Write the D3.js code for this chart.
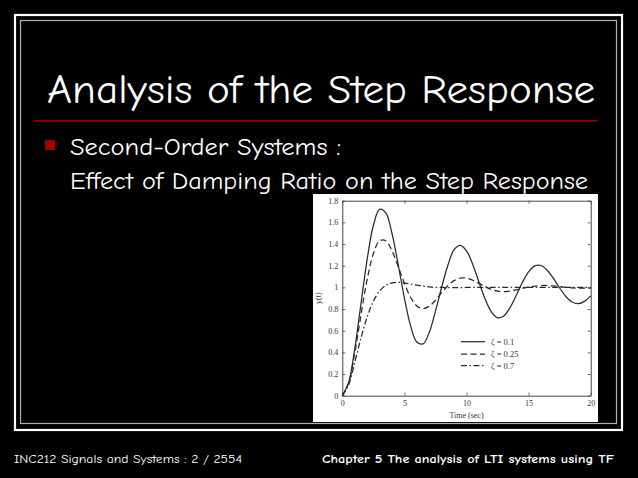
<!DOCTYPE html>
<html>
<head>
<meta charset="utf-8">
<script src="https://cdn.jsdelivr.net/npm/d3@7"></script>
<style>
  html, body { margin: 0; padding: 0; background: #000; }
  svg { display: block; }
</style>
</head>
<body>
<svg id="slide" width="638" height="478"></svg>
<script>
// ---------- data ----------
const time = [0,0.5,1,1.5,2,2.5,3,3.5,4,4.5,5,5.5,6,6.5,7,7.5,8,8.5,9,9.5,10,
              10.5,11,11.5,12,12.5,13,13.5,14,14.5,15,15.5,16,16.5,17,17.5,18,18.5,19,19.5,20];
const zeta01  = [0,0.118,0.431,0.846,1.258,1.571,1.720,1.688,1.499,1.210,0.901,0.644,0.496,0.478,0.584,0.780,1.001,1.204,1.348,1.388,1.337,
                 1.212,1.050,0.892,0.774,0.719,0.736,0.812,0.925,1.045,1.142,1.198,1.202,1.158,1.082,0.994,0.916,0.865,0.850,0.871,0.921];
const zeta025 = [0,0.113,0.392,0.743,1.071,1.310,1.430,1.431,1.337,1.192,1.037,0.908,0.828,0.803,0.826,0.881,0.951,1.015,1.062,1.085,1.085,
                 1.066,1.037,1.007,0.981,0.966,0.961,0.966,0.977,0.991,1.003,1.012,1.017,1.017,1.013,1.007,1.001,0.996,0.993,0.992,0.993];
const zeta07  = [0,0.098,0.306,0.531,0.726,0.871,0.965,1.018,1.042,1.046,1.040,1.030,1.020,1.011,1.005,1.001,0.999,0.998,0.998,0.998,0.999,
                 0.999,0.999,1.000,1.000,1.000,1.000,1.000,1.000,1.000,1.000,1.000,1.000,1.000,1.000,1.000,1.000,1.000,1.000,1.000,1.000];
const xTicks = [0,5,10,15,20];
const yTicks = [0,0.2,0.4,0.6,0.8,1,1.2,1.4,1.6,1.8];
const legendLabels = ["\u03B6 = 0.1", "\u03B6 = 0.25", "\u03B6 = 0.7"];
const titleText = "Analysis of the Step Response";
const bulletLines = ["Second-Order Systems :", "Effect of Damping Ratio on the Step Response"];
const footerLeft = "INC212 Signals and Systems : 2 / 2554";
const footerRight = "Chapter 5 The analysis of LTI systems using TF";

// ---------- drawing ----------
const svg = d3.select("#slide");
const comic = "'Comic Sans MS','Comic Neue','Open Sans','DejaVu Sans',sans-serif";
const serif = "'Liberation Serif','Times New Roman','DejaVu Serif',serif";

svg.append("rect").attr("width", 638).attr("height", 478).attr("fill", "#000");

// slide borders
svg.append("rect").attr("x", 15).attr("y", 15).attr("width", 607).attr("height", 415)
  .attr("fill", "none").attr("stroke", "#fff").attr("stroke-width", 2.2);
svg.append("rect").attr("x", 20.5).attr("y", 20.5).attr("width", 596).attr("height", 403)
  .attr("fill", "none").attr("stroke", "#b0b0b0").attr("stroke-width", 1.2);

// chart image background
svg.append("rect").attr("x", 313).attr("y", 194).attr("width", 285).attr("height", 228).attr("fill", "#fff");

// title
svg.append("text").attr("x", 47).attr("y", 103)
  .attr("font-family", comic).attr("font-size", 40).attr("fill", "#fff")
  .attr("textLength", 548).attr("lengthAdjust", "spacingAndGlyphs")
  .text(titleText);
svg.append("line").attr("x1", 34).attr("x2", 598).attr("y1", 120.7).attr("y2", 120.7)
  .attr("stroke", "#8e0000").attr("stroke-width", 1.5);

// bullet
svg.append("rect").attr("x", 45).attr("y", 140).attr("width", 10).attr("height", 10).attr("fill", "#a00000");
svg.append("text").attr("x", 70).attr("y", 154.5)
  .attr("font-family", comic).attr("font-size", 23.5).attr("fill", "#fff")
  .attr("textLength", 271).attr("lengthAdjust", "spacingAndGlyphs")
  .text(bulletLines[0]);
svg.append("text").attr("x", 70).attr("y", 188.5)
  .attr("font-family", comic).attr("font-size", 23.5).attr("fill", "#fff")
  .attr("textLength", 518).attr("lengthAdjust", "spacingAndGlyphs")
  .text(bulletLines[1]);

// footer
svg.append("text").attr("x", 14).attr("y", 463)
  .attr("font-family", comic).attr("font-size", 12.5).attr("fill", "#fff")
  .attr("textLength", 228).attr("lengthAdjust", "spacingAndGlyphs")
  .text(footerLeft);
svg.append("text").attr("x", 322).attr("y", 463)
  .attr("font-family", comic).attr("font-size", 12.5).attr("font-weight", "bold").attr("fill", "#fff")
  .attr("textLength", 292).attr("lengthAdjust", "spacingAndGlyphs")
  .text(footerRight);

// ---------- plot ----------
const x = d3.scaleLinear().domain([0, 20]).range([342.3, 590.7]);
const y = d3.scaleLinear().domain([0, 1.8]).range([395.7, 200.7]);
const fmt = d => String(+d.toFixed(1));
const axisColor = "#444";

function styleAxis(g) {
  g.select(".domain").attr("stroke", axisColor).attr("stroke-width", 1);
  g.selectAll(".tick line").attr("stroke", axisColor).attr("stroke-width", 0.8);
  g.selectAll(".tick text").attr("fill", "#333").attr("font-family", serif).attr("font-size", 8);
}

svg.append("g").attr("transform", `translate(0,${y(0)})`)
  .call(d3.axisBottom(x).tickValues(xTicks).tickSizeInner(-3).tickSizeOuter(0).tickPadding(4.5).tickFormat(fmt))
  .call(styleAxis);
svg.append("g").attr("transform", `translate(0,${y(1.8)})`)
  .call(d3.axisTop(x).tickValues(xTicks).tickSizeInner(-3).tickSizeOuter(0).tickFormat(""))
  .call(styleAxis);
svg.append("g").attr("transform", `translate(${x(0)},0)`)
  .call(d3.axisLeft(y).tickValues(yTicks).tickSizeInner(-3).tickSizeOuter(0).tickPadding(4).tickFormat(fmt))
  .call(styleAxis);
svg.append("g").attr("transform", `translate(${x(20)},0)`)
  .call(d3.axisRight(y).tickValues(yTicks).tickSizeInner(-3).tickSizeOuter(0).tickFormat(""))
  .call(styleAxis);

svg.append("text").attr("x", (x(0) + x(20)) / 2).attr("y", 417.5).attr("text-anchor", "middle")
  .attr("font-family", serif).attr("font-size", 8).attr("fill", "#333").text("Time (sec)");
svg.append("text").attr("transform", `translate(321,${y(0.9)}) rotate(-90)`).attr("text-anchor", "middle")
  .attr("font-family", serif).attr("font-size", 8).attr("fill", "#333").text("y(t)");

const series = [
  { values: zeta01,  dash: null },
  { values: zeta025, dash: "6,3.5" },
  { values: zeta07,  dash: "6,2.5,1.5,2.5" }
];
const line = d3.line().x((d, i) => x(time[i])).y(d => y(d)).curve(d3.curveCatmullRom.alpha(0.5));

const plot = svg.append("g");
plot.selectAll("path.curve").data(series).join("path")
  .attr("class", "curve")
  .attr("d", d => line(d.values))
  .attr("fill", "none").attr("stroke", "#2a2a2a").attr("stroke-width", 1.25)
  .attr("stroke-dasharray", d => d.dash);

// legend
const legendY = [341.7, 354, 365.7];
const lg = svg.append("g");
series.forEach((s, i) => {
  lg.append("line").attr("x1", 461).attr("x2", 485).attr("y1", legendY[i]).attr("y2", legendY[i])
    .attr("stroke", "#2a2a2a").attr("stroke-width", 1.25).attr("stroke-dasharray", s.dash);
  lg.append("text").attr("x", 491).attr("y", legendY[i]).attr("dy", "0.33em")
    .attr("font-family", serif).attr("font-size", 8.5).attr("fill", "#333").text(legendLabels[i]);
});
</script>
</body>
</html>
